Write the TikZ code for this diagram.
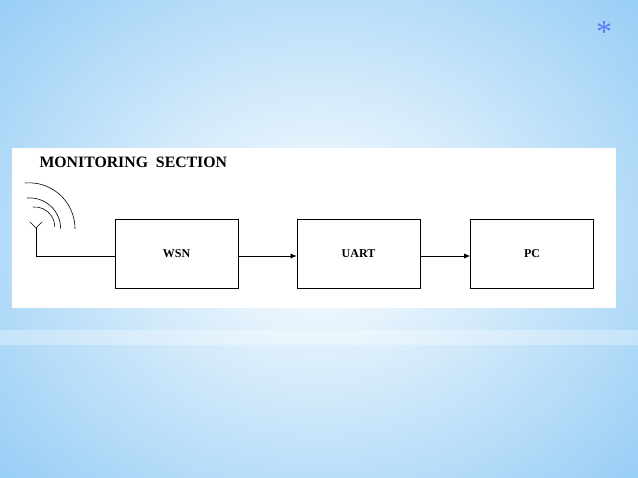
\documentclass[tikz,border=0pt]{standalone}
\usepackage{fontspec}
\setmainfont{Liberation Serif}
\usetikzlibrary{arrows.meta}
\definecolor{sky}{RGB}{150,205,245}
\begin{document}
\begin{tikzpicture}[x=1pt,y=-1pt,
  blk/.style={draw,line width=0.7pt,minimum width=123pt,minimum height=69pt,font=\bfseries\fontsize{12}{13}\selectfont},
  conn/.style={line width=0.6pt,-{Latex[length=6pt,width=5pt]}}]
\useasboundingbox (0,0) rectangle (638,478);
\shade[inner color=white,outer color=sky] (-120,-120) rectangle (758,598);
\fill[white,opacity=0.3] (0,330) rectangle (638,345);
\node[text=sky!60!blue,font=\fontsize{32}{32}\selectfont] (ast) at (604,32) {*};
\fill[white] (12,148) rectangle (616,308);
\node[anchor=west,font=\bfseries\fontsize{15.8}{17}\selectfont] (title) at (36,162) {MONITORING\ \ SECTION};
\node[blk] (wsn) at (176.5,253.5) {WSN};
\node[blk] (uart) at (358.5,253.5) {UART};
\node[blk] (pc) at (532,253.5) {PC};
\coordinate (ant) at (36,228);
\draw[line width=0.6pt] (ant) -- (36,256) -- (wsn.west |- 0,256);
\draw[line width=0.6pt] (30,222) -- (ant) -- (42,222);
\draw[conn] (wsn.east |- 0,256) -- (uart.west |- 0,256);
\draw[conn] (uart.east |- 0,256) -- (pc.west |- 0,256);
\draw[line width=0.6pt] (25,183) arc[start angle=-95,end angle=0,radius=46];
\draw[line width=0.6pt] (27,198) arc[start angle=-95,end angle=0,radius=31];
\draw[line width=0.6pt] (33,207) arc[start angle=-95,end angle=0,radius=20];
\end{tikzpicture}
\end{document}
